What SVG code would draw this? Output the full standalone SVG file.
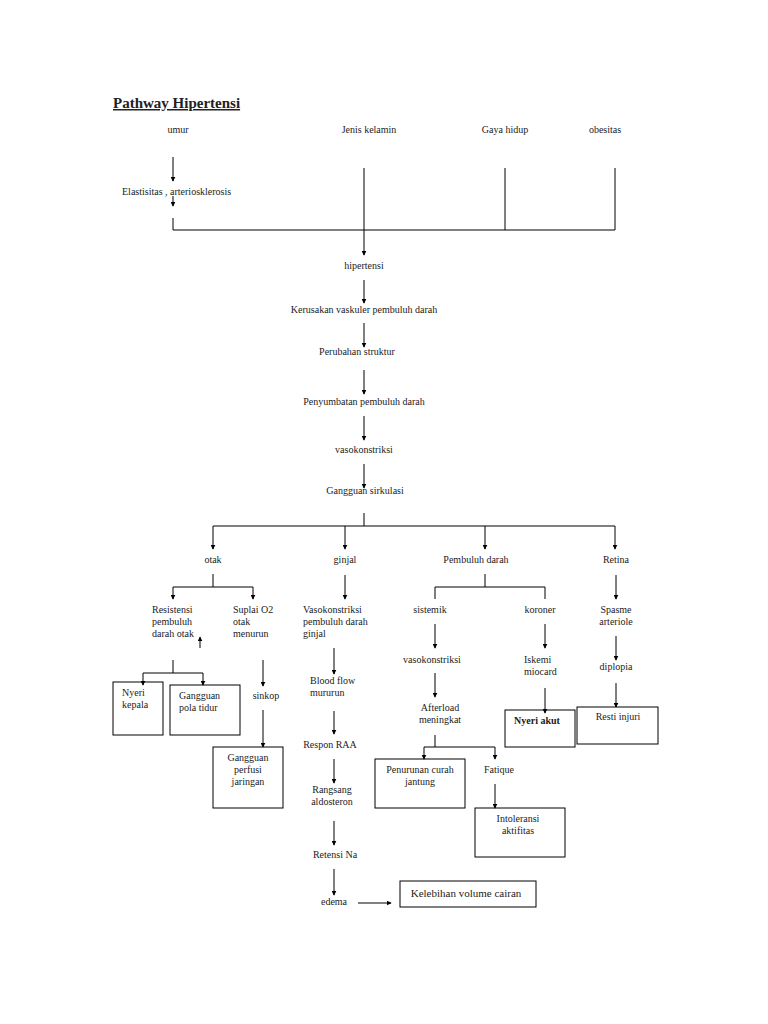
<svg xmlns="http://www.w3.org/2000/svg" width="768" height="1024" viewBox="0 0 768 1024">
<defs><marker id="a" viewBox="0 0 8 8" refX="7" refY="4" markerWidth="5" markerHeight="5" orient="auto"><path d="M0,0L8,4L0,8z" fill="#000"/></marker></defs>
<style>text{font-family:"Liberation Serif",serif;font-size:10px;fill:#222}.m{text-anchor:middle}line,polyline{stroke:#000;stroke-width:1;fill:none}.ar{marker-end:url(#a)}rect.b{fill:none;stroke:#000;stroke-width:1}</style>
<rect width="768" height="1024" fill="#fff"/>
<text x="113" y="108" style="font-size:15px;font-weight:bold;text-decoration:underline">Pathway Hipertensi</text>
<g id="connectors">
<line class="ar" x1="173" y1="157" x2="173" y2="181"/>
<line class="ar" x1="173" y1="196" x2="173" y2="206"/>
<polyline points="173,218 173,230 615,230 615,168"/>
<line x1="505" y1="168" x2="505" y2="230"/>
<line class="ar" x1="364" y1="168" x2="364" y2="255"/>
<line class="ar" x1="364" y1="280" x2="364" y2="303"/>
<line class="ar" x1="364" y1="323" x2="364" y2="347"/>
<line class="ar" x1="364" y1="370" x2="364" y2="394"/>
<line class="ar" x1="364" y1="416" x2="364" y2="440"/>
<line class="ar" x1="364" y1="464" x2="364" y2="488"/>
<line x1="364" y1="513" x2="364" y2="526"/>
<line x1="213" y1="526" x2="615" y2="526"/>
<line class="ar" x1="213" y1="526" x2="213" y2="549"/>
<line class="ar" x1="345" y1="526" x2="345" y2="549"/>
<line class="ar" x1="485" y1="526" x2="485" y2="549"/>
<line class="ar" x1="615" y1="526" x2="615" y2="549"/>
<line x1="213" y1="574" x2="213" y2="587"/>
<line x1="173" y1="587" x2="253" y2="587"/>
<line class="ar" x1="173" y1="587" x2="173" y2="599"/>
<line class="ar" x1="253" y1="587" x2="253" y2="599"/>
<line class="ar" x1="200" y1="648" x2="200" y2="637"/>
<line x1="173" y1="660" x2="173" y2="673"/>
<line x1="143" y1="673" x2="203" y2="673"/>
<line class="ar" x1="143" y1="673" x2="143" y2="685"/>
<line class="ar" x1="203" y1="673" x2="203" y2="685"/>
<line class="ar" x1="263" y1="660" x2="263" y2="686"/>
<line class="ar" x1="263" y1="710" x2="263" y2="747"/>
<line class="ar" x1="345" y1="575" x2="345" y2="599"/>
<line class="ar" x1="334" y1="648" x2="334" y2="674"/>
<line class="ar" x1="334" y1="711" x2="334" y2="734"/>
<line class="ar" x1="334" y1="759" x2="334" y2="783"/>
<line class="ar" x1="334" y1="821" x2="334" y2="845"/>
<line class="ar" x1="334" y1="869" x2="334" y2="895"/>
<line class="ar" x1="358" y1="903" x2="391" y2="903"/>
<line x1="485" y1="574" x2="485" y2="587"/>
<polyline points="435,599 435,587 545,587 545,599"/>
<line class="ar" x1="435" y1="624" x2="435" y2="648"/>
<line class="ar" x1="435" y1="673" x2="435" y2="697"/>
<line x1="435" y1="735" x2="435" y2="747"/>
<line x1="424" y1="747" x2="495" y2="747"/>
<line class="ar" x1="424" y1="747" x2="424" y2="759"/>
<line class="ar" x1="495" y1="747" x2="495" y2="759"/>
<line class="ar" x1="495" y1="784" x2="495" y2="808"/>
<line class="ar" x1="545" y1="624" x2="545" y2="648"/>
<line class="ar" x1="545" y1="688" x2="545" y2="713"/>
<line class="ar" x1="616" y1="575" x2="616" y2="599"/>
<line class="ar" x1="616" y1="636" x2="616" y2="660"/>
<line class="ar" x1="616" y1="683" x2="616" y2="707"/>
</g>
<g id="umur"><text class="m" x="178" y="133">umur</text></g>
<g id="jenis"><text class="m" x="369" y="133">Jenis kelamin</text></g>
<g id="gaya"><text class="m" x="505" y="133">Gaya hidup</text></g>
<g id="obesitas"><text class="m" x="605" y="133">obesitas</text></g>
<g id="elastisitas"><text x="122" y="195">Elastisitas , arteriosklerosis</text></g>
<g id="hipertensi"><text class="m" x="364" y="269">hipertensi</text></g>
<g id="kerusakan"><text class="m" x="364" y="313">Kerusakan vaskuler pembuluh darah</text></g>
<g id="perubahan"><text class="m" x="357" y="355">Perubahan struktur</text></g>
<g id="penyumbatan"><text class="m" x="364" y="405">Penyumbatan pembuluh darah</text></g>
<g id="vaso1"><text class="m" x="364" y="453">vasokonstriksi</text></g>
<g id="gangguan-sirkulasi"><text class="m" x="365" y="494">Gangguan sirkulasi</text></g>
<g id="otak"><text class="m" x="213" y="563">otak</text></g>
<g id="ginjal"><text class="m" x="345" y="563">ginjal</text></g>
<g id="pembuluh"><text class="m" x="476" y="563">Pembuluh darah</text></g>
<g id="retina"><text class="m" x="616" y="563">Retina</text></g>
<g id="resistensi"><text x="152" y="613">Resistensi</text><text x="152" y="625">pembuluh</text><text x="152" y="637">darah otak</text></g>
<g id="suplai"><text x="233" y="613">Suplai O2</text><text x="233" y="625">otak</text><text x="233" y="637">menurun</text></g>
<g id="nyeri-kepala"><rect class="b" x="113" y="682" width="50" height="53"/><text x="122" y="696">Nyeri</text><text x="122" y="708">kepala</text></g>
<g id="pola-tidur"><rect class="b" x="170" y="685" width="70" height="50"/><text x="179" y="699">Gangguan</text><text x="179" y="711">pola tidur</text></g>
<g id="sinkop"><text class="m" x="266" y="699">sinkop</text></g>
<g id="perfusi"><rect class="b" x="213" y="747" width="70" height="61"/><text class="m" x="248" y="761">Gangguan</text><text class="m" x="248" y="773">perfusi</text><text class="m" x="248" y="785">jaringan</text></g>
<g id="vaso-ginjal"><text x="303" y="613">Vasokonstriksi</text><text x="303" y="625">pembuluh darah</text><text x="303" y="637">ginjal</text></g>
<g id="bloodflow"><text x="310" y="684">Blood flow</text><text x="310" y="696">mururun</text></g>
<g id="raa"><text class="m" x="330" y="748">Respon RAA</text></g>
<g id="aldosteron"><text class="m" x="332" y="793">Rangsang</text><text class="m" x="332" y="805">aldosteron</text></g>
<g id="retensi"><text class="m" x="335" y="858">Retensi Na</text></g>
<g id="edema"><text class="m" x="334" y="905">edema</text></g>
<g id="kelebihan"><rect class="b" x="400" y="881" width="136" height="26"/><text class="m" x="466" y="897" style="font-size:11px">Kelebihan volume cairan</text></g>
<g id="sistemik"><text class="m" x="430" y="613">sistemik</text></g>
<g id="vaso2"><text class="m" x="432" y="663">vasokonstriksi</text></g>
<g id="afterload"><text class="m" x="440" y="711">Afterload</text><text class="m" x="440" y="723">meningkat</text></g>
<g id="penurunan"><rect class="b" x="375" y="759" width="90" height="49"/><text class="m" x="420" y="773">Penurunan curah</text><text class="m" x="420" y="785">jantung</text></g>
<g id="fatique"><text class="m" x="499" y="773">Fatique</text></g>
<g id="intoleransi"><rect class="b" x="475" y="808" width="90" height="49"/><text class="m" x="518" y="822">Intoleransi</text><text class="m" x="518" y="834">aktifitas</text></g>
<g id="koroner"><text class="m" x="540" y="613">koroner</text></g>
<g id="iskemi"><text x="524" y="663">Iskemi</text><text x="524" y="675">miocard</text></g>
<g id="nyeri-akut"><rect class="b" x="505" y="710" width="70" height="37"/><text class="m" x="537" y="724" style="font-weight:bold">Nyeri akut</text></g>
<g id="spasme"><text class="m" x="616" y="613">Spasme</text><text class="m" x="616" y="625">arteriole</text></g>
<g id="diplopia"><text class="m" x="616" y="670">diplopia</text></g>
<g id="resti"><rect class="b" x="577" y="707" width="81" height="37"/><text class="m" x="618" y="720">Resti injuri</text></g>
</svg>
